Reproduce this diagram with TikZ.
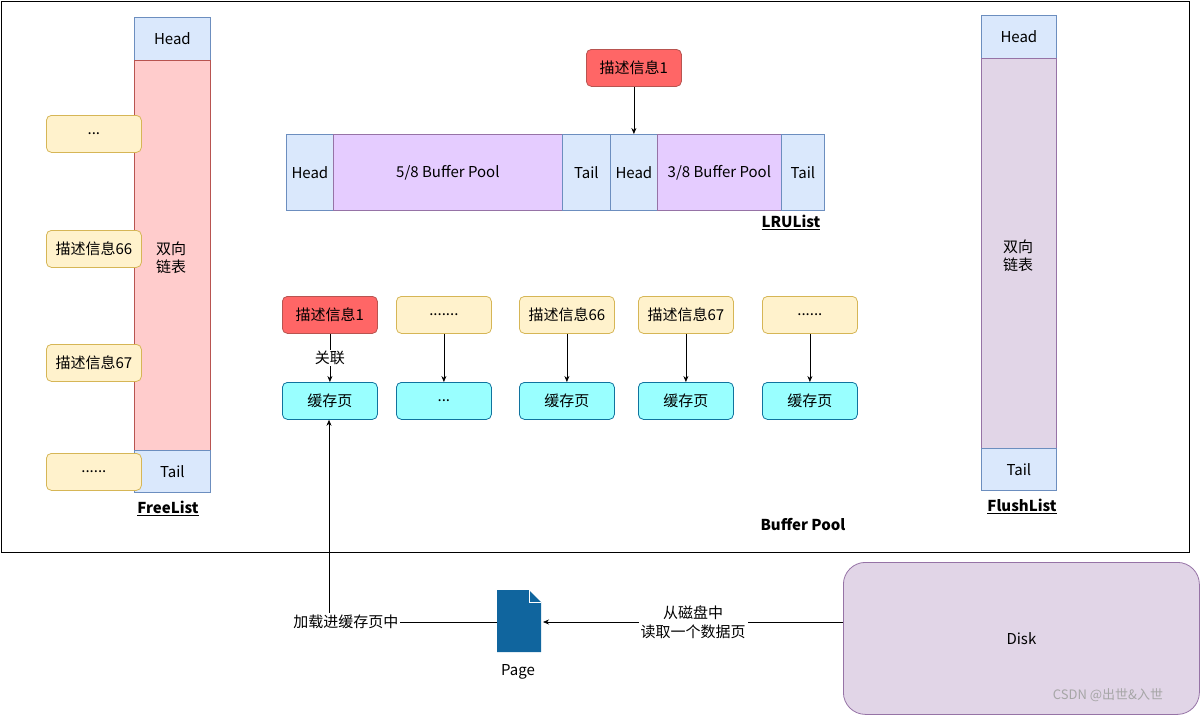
\documentclass[tikz,border=0pt]{standalone}
\usepackage{fontspec}
\setmainfont{Noto Sans CJK SC}
\usetikzlibrary{arrows.meta}
\definecolor{bb}{HTML}{DAE8FC}\definecolor{bbd}{HTML}{6C8EBF}
\definecolor{pk}{HTML}{FFCCCC}\definecolor{pkd}{HTML}{B85450}
\definecolor{pu}{HTML}{E1D5E7}\definecolor{pud}{HTML}{9673A6}
\definecolor{lv}{HTML}{E5CCFF}
\definecolor{yl}{HTML}{FFF2CC}\definecolor{yld}{HTML}{D6B656}
\definecolor{rd}{HTML}{FF6666}
\definecolor{cy}{HTML}{99FFFF}\definecolor{cyd}{HTML}{10739E}
\definecolor{pg}{HTML}{10659E}
\begin{document}
\begin{tikzpicture}[x=1pt,y=-1pt,font=\fontsize{15}{18}\selectfont,
 box/.style={draw=#1,line width=0.8pt,anchor=north west,inner sep=0pt},
 rb/.style={draw,rounded corners=5pt,line width=0.8pt,anchor=north west,inner sep=0pt,minimum width=95pt,minimum height=37pt},
 ar/.style={-{Stealth[length=6pt,width=5pt]},line width=0.7pt},
 lbl/.style={font=\fontsize{15}{18}\selectfont\bfseries}]
\useasboundingbox (0,0) rectangle (1200,715);
\draw[line width=0.8pt] (1,1) rectangle (1189,552);
\node[lbl] (bp) at (803,525) {Buffer Pool};
% FreeList
\node[box=bbd,fill=bb,minimum width=76pt,minimum height=43pt] (fh) at (134,17) {Head};
\node[box=pkd,fill=pk,minimum width=76pt,minimum height=390pt,align=center] (fb) at (134,60) {};
\node at (171,258) [align=center] {双向\\链表};
\node[box=bbd,fill=bb,minimum width=76pt,minimum height=42pt] (ft) at (134,450) {Tail};
\node[lbl] (fl) at (168,508) {\underline{FreeList}};
\node[rb,draw=yld,fill=yl] (y1) at (46,115) {...};
\node[rb,draw=yld,fill=yl] (y2) at (46,230) {描述信息66};
\node[rb,draw=yld,fill=yl] (y3) at (46,344) {描述信息67};
\node[rb,draw=yld,fill=yl] (y4) at (46,453) {......};
% FlushList
\node[box=bbd,fill=bb,minimum width=75pt,minimum height=43pt] (uh) at (981,15) {Head};
\node[box=pud,fill=pu,minimum width=75pt,minimum height=390pt] (ub) at (981,58) {};
\node at (1018,256) [align=center] {双向\\链表};
\node[box=bbd,fill=bb,minimum width=75pt,minimum height=42pt] (ut) at (981,448) {Tail};
\node[lbl] (ul) at (1022,506) {\underline{FlushList}};
% LRU
\node[box=bbd,fill=bb,minimum width=47pt,minimum height=76pt] (l1) at (286,134) {Head};
\node[box=pud,fill=lv,minimum width=229pt,minimum height=76pt] (l2) at (333,134) {5/8 Buffer Pool};
\node[box=bbd,fill=bb,minimum width=48pt,minimum height=76pt] (l3) at (562,134) {Tail};
\node[box=bbd,fill=bb,minimum width=47pt,minimum height=76pt] (l4) at (610,134) {Head};
\node[box=pud,fill=lv,minimum width=124pt,minimum height=76pt] (l5) at (657,134) {3/8 Buffer Pool};
\node[box=bbd,fill=bb,minimum width=43pt,minimum height=76pt] (l6) at (781,134) {Tail};
\node[lbl] (ll) at (791,222) {\underline{LRUList}};
\node[rb,draw=pkd,fill=rd] (d0) at (586,49) {描述信息1};
\draw[ar] (d0.south) -- (d0.south|-l4.north);
% rows
\node[rb,draw=pkd,fill=rd] (r1) at (282,296) {描述信息1};
\node[rb,draw=yld,fill=yl] (r2) at (396,296) {.......};
\node[rb,draw=yld,fill=yl] (r3) at (519,296) {描述信息66};
\node[rb,draw=yld,fill=yl] (r4) at (638,296) {描述信息67};
\node[rb,draw=yld,fill=yl] (r5) at (762,296) {......};
\node[rb,draw=cyd,fill=cy] (c1) at (282,382) {缓存页};
\node[rb,draw=cyd,fill=cy] (c2) at (396,382) {...};
\node[rb,draw=cyd,fill=cy] (c3) at (519,382) {缓存页};
\node[rb,draw=cyd,fill=cy] (c4) at (638,382) {缓存页};
\node[rb,draw=cyd,fill=cy] (c5) at (762,382) {缓存页};
\draw[ar] (r1) -- node[fill=white,inner sep=1pt] {关联} (c1);
\foreach \i in {2,3,4,5} \draw[ar] (r\i) -- (c\i);
% bottom
\node[draw=pud,fill=pu,line width=0.8pt,rounded corners=22pt,anchor=north west,minimum width=356pt,minimum height=152pt] (disk) at (843,562) {Disk};
\fill[pg] (497,590) -- (529,590) -- (541,602) -- (541,652) -- (497,652) -- cycle;
\draw[white,line width=0.8pt] (529,590) -- (529,602) -- (541,602);
\coordinate (pl) at (497,622);
\coordinate (pr) at (543,622);
\node (page) at (518,672) {Page};
\draw[ar] (disk.west|-pr) -- node[fill=white,align=center,inner sep=2pt,font=\fontsize{15}{19}\selectfont] {从磁盘中\\读取一个数据页} (pr);
\coordinate (cn) at (329,622);
\draw[ar] (pl) -- node[pos=0.9,fill=white,inner sep=2pt] {加载进缓存页中} (cn) -- (c1.south-|cn);
\node[text=gray!70,font=\fontsize{13}{15}\selectfont] (wm) at (1108,695) {CSDN @出世\&入世};
\end{tikzpicture}
\end{document}
